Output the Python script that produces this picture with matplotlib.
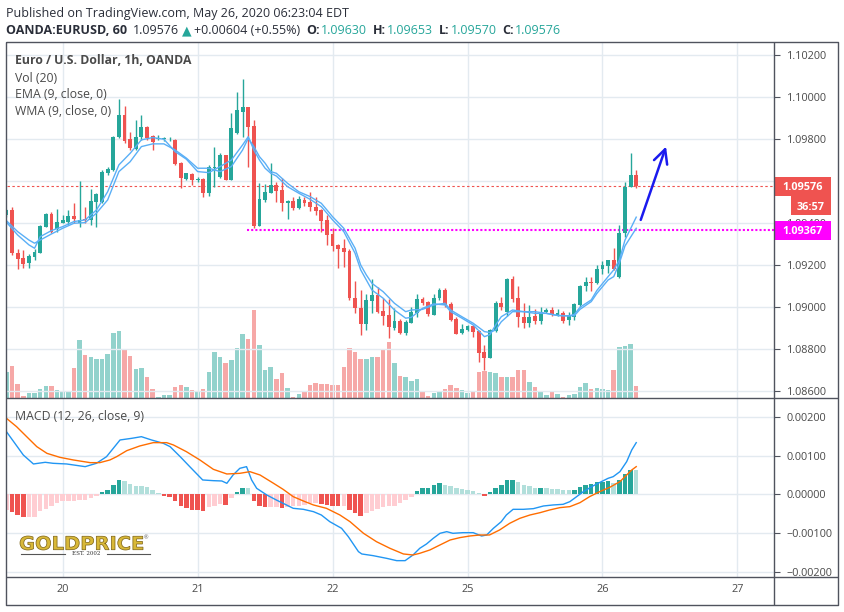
import numpy as np
import matplotlib
matplotlib.use("Agg")
import matplotlib.pyplot as plt
from matplotlib.patches import Rectangle, PathPatch
from matplotlib.textpath import TextPath
from matplotlib.font_manager import FontProperties
from matplotlib.transforms import Affine2D, blended_transform_factory

plt.rcParams['font.family'] = ['Open Sans', 'DejaVu Sans']

# 1h bars, index 0 = May 20 00:00 EDT (weekend hours skipped)
bar_index = list(range(-10, 103))

opens = [
    1.09440, 1.09463, 1.09260, 1.09236, 1.09210, 1.09241, 1.09260, 1.09384, 1.09444, 1.09371,
    1.09403, 1.09408, 1.09435, 1.09403, 1.09420, 1.09416, 1.09503, 1.09503, 1.09641, 1.09654,
    1.09810, 1.09916, 1.09800, 1.09752, 1.09810, 1.09857, 1.09816, 1.09802, 1.09800, 1.09799,
    1.09797, 1.09689, 1.09611, 1.09635, 1.09608, 1.09610, 1.09543, 1.09662, 1.09622, 1.09725,
    1.09606, 1.09829, 1.09931, 1.09955, 1.09863, 1.09387, 1.09511, 1.09546, 1.09582, 1.09559,
    1.09495, 1.09506, 1.09474, 1.09511, 1.09500, 1.09479, 1.09463, 1.09416, 1.09349, 1.09297,
    1.09284, 1.09270, 1.09043, 1.08995, 1.08920, 1.09031, 1.09059, 1.08982, 1.08963, 1.08903,
    1.08936, 1.08879, 1.08927, 1.08974, 1.09040, 1.09024, 1.08963, 1.09043, 1.09082, 1.09016,
    1.08943, 1.08876, 1.08892, 1.08911, 1.08889, 1.08789, 1.08757, 1.08889, 1.09022, 1.08979,
    1.09135, 1.09043, 1.08955, 1.08927, 1.08959, 1.08936, 1.08979, 1.08987, 1.08962, 1.08971,
    1.08940, 1.08952, 1.09011, 1.09101, 1.09122, 1.09114, 1.09181, 1.09197, 1.09225, 1.09146,
    1.09352, 1.09574, 1.09630,
]
highs = [
    1.09470, 1.09479, 1.09278, 1.09273, 1.09254, 1.09276, 1.09392, 1.09449, 1.09455, 1.09467,
    1.09440, 1.09463, 1.09495, 1.09603, 1.09479, 1.09563, 1.09545, 1.09654, 1.09668, 1.09815,
    1.09990, 1.09959, 1.09836, 1.09892, 1.09916, 1.09865, 1.09821, 1.09818, 1.09813, 1.09813,
    1.09800, 1.09693, 1.09640, 1.09640, 1.09619, 1.09614, 1.09675, 1.09765, 1.09733, 1.09725,
    1.09927, 1.10027, 1.10086, 1.09955, 1.09892, 1.09590, 1.09587, 1.09686, 1.09598, 1.09617,
    1.09510, 1.09525, 1.09530, 1.09525, 1.09549, 1.09525, 1.09470, 1.09440, 1.09378, 1.09301,
    1.09324, 1.09278, 1.09127, 1.09082, 1.09063, 1.09133, 1.09098, 1.09046, 1.09038, 1.08997,
    1.08945, 1.08938, 1.09003, 1.09062, 1.09051, 1.09030, 1.09063, 1.09090, 1.09090, 1.09025,
    1.08956, 1.08920, 1.08916, 1.08916, 1.08892, 1.08820, 1.08897, 1.09030, 1.09050, 1.09141,
    1.09149, 1.09101, 1.09022, 1.09011, 1.08990, 1.09003, 1.08997, 1.09000, 1.08990, 1.08981,
    1.08978, 1.09022, 1.09106, 1.09143, 1.09143, 1.09201, 1.09222, 1.09225, 1.09281, 1.09392,
    1.09598, 1.09733, 1.09653,
]
lows = [
    1.09430, 1.09249, 1.09182, 1.09189, 1.09189, 1.09225, 1.09258, 1.09384, 1.09352, 1.09360,
    1.09400, 1.09392, 1.09403, 1.09384, 1.09400, 1.09392, 1.09381, 1.09496, 1.09630, 1.09650,
    1.09805, 1.09781, 1.09749, 1.09749, 1.09797, 1.09797, 1.09749, 1.09795, 1.09794, 1.09794,
    1.09678, 1.09567, 1.09605, 1.09582, 1.09595, 1.09524, 1.09529, 1.09574, 1.09617, 1.09606,
    1.09606, 1.09825, 1.09812, 1.09670, 1.09376, 1.09385, 1.09503, 1.09543, 1.09503, 1.09460,
    1.09419, 1.09465, 1.09470, 1.09484, 1.09460, 1.09440, 1.09360, 1.09297, 1.09270, 1.09186,
    1.09190, 1.09035, 1.08971, 1.08868, 1.08892, 1.08974, 1.08971, 1.08916, 1.08852, 1.08892,
    1.08871, 1.08866, 1.08925, 1.08955, 1.09013, 1.08959, 1.08963, 1.09035, 1.09003, 1.08935,
    1.08873, 1.08871, 1.08889, 1.08860, 1.08741, 1.08701, 1.08757, 1.08884, 1.08987, 1.08959,
    1.09027, 1.08908, 1.08900, 1.08905, 1.08918, 1.08922, 1.08974, 1.08959, 1.08957, 1.08925,
    1.08917, 1.08940, 1.09003, 1.09079, 1.09079, 1.09110, 1.09159, 1.09162, 1.09176, 1.09138,
    1.09333, 1.09574, 1.09570,
]
closes = [
    1.09463, 1.09257, 1.09230, 1.09206, 1.09244, 1.09265, 1.09389, 1.09444, 1.09360, 1.09408,
    1.09416, 1.09435, 1.09422, 1.09416, 1.09416, 1.09506, 1.09540, 1.09646, 1.09657, 1.09812,
    1.09916, 1.09793, 1.09757, 1.09812, 1.09857, 1.09805, 1.09789, 1.09808, 1.09805, 1.09803,
    1.09682, 1.09614, 1.09638, 1.09606, 1.09613, 1.09543, 1.09670, 1.09670, 1.09725, 1.09606,
    1.09852, 1.09940, 1.09955, 1.09860, 1.09387, 1.09514, 1.09548, 1.09582, 1.09555, 1.09495,
    1.09506, 1.09474, 1.09514, 1.09495, 1.09476, 1.09460, 1.09411, 1.09344, 1.09292, 1.09278,
    1.09265, 1.09043, 1.08995, 1.08920, 1.09035, 1.09059, 1.08979, 1.08959, 1.08905, 1.08936,
    1.08879, 1.08929, 1.08979, 1.09038, 1.09022, 1.08967, 1.09043, 1.09082, 1.09011, 1.08940,
    1.08873, 1.08897, 1.08911, 1.08884, 1.08784, 1.08757, 1.08892, 1.09022, 1.09003, 1.09135,
    1.09038, 1.08952, 1.08927, 1.08955, 1.08936, 1.08979, 1.08987, 1.08963, 1.08971, 1.08936,
    1.08963, 1.09016, 1.09101, 1.09122, 1.09117, 1.09181, 1.09201, 1.09225, 1.09181, 1.09355,
    1.09574, 1.09630, 1.09576,
]
# volume, relative units
volumes = [
    77, 97, 43, 7, 16, 16, 28, 37, 37, 25,
    22, 22, 91, 175, 130, 124, 118, 118, 133, 196,
    202, 145, 127, 88, 91, 64, 28, 4, 10, 10,
    34, 40, 34, 25, 19, 28, 79, 139, 124, 106,
    115, 151, 193, 178, 265, 160, 85, 94, 58, 76,
    31, 4, 13, 19, 40, 46, 43, 43, 40, 40,
    94, 151, 139, 118, 118, 124, 124, 145, 169, 106,
    67, 64, 52, 58, 22, 7, 16, 19, 28, 40,
    31, 25, 16, 19, 79, 82, 79, 76, 64, 64,
    64, 85, 85, 49, 34, 22, 10, 19, 13, 4,
    10, 13, 34, 46, 28, 31, 28, 25, 85, 154,
    157, 163, 37,
]
# MACD histogram (x 0.001)
macd_hist = [
    -0.400, -0.464, -0.524, -0.590, -0.585, -0.575, -0.438, -0.378, -0.309, -0.223,
    -0.180, -0.163, -0.160, -0.137, -0.135, -0.094, -0.052, 0.060, 0.120, 0.249,
    0.378, 0.352, 0.275, 0.223, 0.206, 0.189, 0.103, 0.034, -0.052, -0.077,
    -0.180, -0.309, -0.352, -0.395, -0.398, -0.438, -0.326, -0.292, -0.240, -0.266,
    -0.103, 0.069, 0.172, 0.155, -0.180, -0.309, -0.335, -0.330, -0.326, -0.361,
    -0.326, -0.309, -0.292, -0.266, -0.223, -0.215, -0.240, -0.266, -0.292, -0.309,
    -0.300, -0.412, -0.481, -0.567, -0.481, -0.438, -0.378, -0.326, -0.309, -0.292,
    -0.223, -0.137, -0.069, 0.094, 0.163, 0.165, 0.240, 0.300, 0.249, 0.223,
    0.155, 0.137, 0.103, 0.085, 0.043, -0.034, 0.052, 0.163, 0.249, 0.378,
    0.380, 0.309, 0.249, 0.223, 0.163, 0.172, 0.163, 0.146, 0.137, 0.120,
    0.103, 0.120, 0.189, 0.249, 0.275, 0.309, 0.326, 0.335, 0.292, 0.378,
    0.532, 0.635, 0.630,
]

# moving averages
ma_index = [-10, -8, -6, -5, -4, -2, 0, 2, 4, 6, 8, 10, 12, 14, 16, 18, 20, 22, 24, 26,
            28, 30, 32, 33, 34, 35, 36, 37, 38, 40, 42, 44, 46, 48, 50, 52, 53, 54, 55, 57,
            59, 61, 62, 64, 66, 68, 69, 71, 73, 75, 76, 77, 78, 80, 82, 84, 86, 88, 90, 91,
            92, 94, 95, 97, 98, 99, 100, 102]
wma_vals = [1.09405, 1.09344, 1.09297, 1.09281, 1.09336, 1.09365, 1.09384, 1.09408, 1.09416, 1.09463,
            1.09550, 1.09678, 1.09733, 1.09797, 1.09808, 1.09800, 1.09741, 1.09705, 1.09646, 1.09641,
            1.09670, 1.09701, 1.09773, 1.09812, 1.09749, 1.09701, 1.09662, 1.09638, 1.09625, 1.09574,
            1.09543, 1.09514, 1.09479, 1.09416, 1.09360, 1.09257, 1.09178, 1.09130, 1.09082, 1.09043,
            1.08987, 1.08948, 1.08952, 1.08995, 1.09016, 1.09011, 1.08979, 1.08948, 1.08916, 1.08860,
            1.08870, 1.08916, 1.08955, 1.08987, 1.08979, 1.08979, 1.08971, 1.08961, 1.08959, 1.08966,
            1.09000, 1.09035, 1.09080, 1.09146, 1.09178, 1.09225, 1.09320, 1.09429]
ema_vals = [1.09412, 1.09360, 1.09320, 1.09305, 1.09320, 1.09349, 1.09376, 1.09400, 1.09403, 1.09448,
            1.09511, 1.09646, 1.09693, 1.09765, 1.09778, 1.09778, 1.09749, 1.09710, 1.09662, 1.09662,
            1.09646, 1.09670, 1.09749, 1.09805, 1.09765, 1.09717, 1.09686, 1.09646, 1.09638, 1.09590,
            1.09550, 1.09527, 1.09495, 1.09431, 1.09376, 1.09281, 1.09201, 1.09154, 1.09114, 1.09074,
            1.09019, 1.08979, 1.08987, 1.08990, 1.09011, 1.09019, 1.08987, 1.08955, 1.08924, 1.08884,
            1.08880, 1.08892, 1.08931, 1.08979, 1.08979, 1.08971, 1.08971, 1.08961, 1.08959, 1.08960,
            1.08990, 1.09027, 1.09066, 1.09130, 1.09146, 1.09210, 1.09292, 1.09376]

# MACD and signal lines (x 0.001)
macd_x = [-10, -8.5, -7, -5.2, -3.1, -1.7, 0.7, 4, 6, 7.8, 9, 10.2, 12.3, 14, 15.8, 17.9, 19.1,
          20.9, 22.6, 24.9, 26.8, 28.3, 29.2, 30.3, 31.5, 32.7, 33.6, 34.5, 36.3, 38, 39.8, 41,
          42.8, 44.6, 46, 47.5, 49.6, 50.8, 52.6, 53.2, 55.2, 57.6, 59.4, 60.9, 62.3, 63.5, 64.7,
          65.9, 67.1, 68.3, 69.4, 71.2, 73, 74.5, 75.4, 76.6, 78, 78.9, 80.1, 81.9, 83.7, 85.5,
          87.2, 89, 90.2, 91.4, 92.6, 94.3, 95.8, 97, 97.9, 99.1, 100.3, 101.2, 102]
macd_vals = [1.614, 1.314, 1.013, 0.782, 0.825, 0.799, 0.782, 0.713, 0.799, 0.970, 1.185, 1.400,
             1.443, 1.485, 1.400, 1.314, 1.228, 0.970, 0.713, 0.370, 0.352, 0.344, 0.284, 0.498,
             0.670, 0.713, 0.370, 0.155, -0.017, -0.146, -0.274, -0.360, -0.386, -0.446, -0.532,
             -0.704, -0.875, -1.090, -1.476, -1.536, -1.579, -1.648, -1.708, -1.708, -1.562,
             -1.390, -1.279, -1.133, -1.004, -0.961, -1.004, -0.987, -0.987, -1.073, -1.047,
             -0.875, -0.704, -0.532, -0.386, -0.386, -0.369, -0.300, -0.274, -0.257, -0.188,
             -0.060, 0.069, 0.215, 0.327, 0.413, 0.455, 0.584, 0.842, 1.142, 1.331]
signal_x = [-10, -8.2, -6.4, -4.6, -2.8, -0.5, 1.9, 4.9, 6.6, 8.4, 9.6, 11.4, 13.7, 16.1, 18.5,
            19.7, 22, 24.4, 26.8, 29.2, 31.5, 33.3, 35.1, 37.5, 39.2, 41, 42.8, 44.6, 46.9, 49.3,
            51.1, 53.5, 55.8, 58.2, 60.6, 62.3, 63.5, 65.3, 67.1, 68.9, 70.6, 72.4, 74.2, 75.9,
            77.7, 79.5, 81.3, 83.1, 84.9, 86.6, 88.4, 90.2, 92, 93.7, 95.5, 97.3, 99.1, 100.3,
            101.2, 102]
signal_vals = [1.958, 1.743, 1.485, 1.228, 1.056, 0.953, 0.885, 0.816, 0.816, 0.885, 0.970, 1.125,
               1.245, 1.331, 1.331, 1.271, 1.099, 0.885, 0.644, 0.524, 0.541, 0.584, 0.498, 0.284,
               0.129, -0.060, -0.171, -0.274, -0.360, -0.532, -0.704, -1.004, -1.219, -1.390,
               -1.536, -1.562, -1.519, -1.433, -1.304, -1.176, -1.116, -1.073, -1.047, -1.047,
               -0.918, -0.746, -0.618, -0.532, -0.472, -0.403, -0.343, -0.317, -0.214, -0.060,
               0.069, 0.181, 0.327, 0.498, 0.627, 0.713]

day_ticks = [0, 24, 48, 72, 96, 120]
day_labels = ["20", "21", "22", "25", "26", "27"]
price_ticks = [1.086, 1.088, 1.090, 1.092, 1.094, 1.096, 1.098, 1.100, 1.102]
macd_ticks = [-0.002, -0.001, 0.0, 0.001, 0.002]

last_price = 1.09576
level_price = 1.09367
level_start = 32.7
countdown = "36:57"
arrow_from = (102.8, 1.09416)
arrow_to = (107.3, 1.09765)

GREEN, RED = '#26a69a', '#ef5350'
TEXT, GRID, FRAME = '#4a4a4a', '#e3eaf0', '#50535e'

W, H = 845, 612
fig = plt.figure(figsize=(W / 100, H / 100), dpi=100)
fig.patch.set_facecolor('white')

left, right, top, mid, low, bottom, edge = 7, 774, 42, 398, 577, 605, 838


def rect(x0, y0, x1, y1):
    return [x0 / W, 1 - y1 / H, (x1 - x0) / W, (y1 - y0) / H]


axv = fig.add_axes(rect(left, top, right, mid))
ax = fig.add_axes(rect(left, top, right, mid), sharex=axv)
axm = fig.add_axes(rect(left, mid, right, low), sharex=axv)
ov = fig.add_axes([0, 0, 1, 1], zorder=10)
ov.set_xlim(0, W)
ov.set_ylim(H, 0)
ov.axis('off')

x = np.array(bar_index)
o, h, l, c = map(np.array, (opens, highs, lows, closes))
up = c >= o
colors = np.where(up, GREEN, RED)

# volume underneath
axv.bar(x, volumes, width=0.8, color=colors, alpha=0.5, linewidth=0)
axv.set_ylim(0, max(volumes) * (mid - top) / 88.3)
axv.axis('off')

# candles
ax.patch.set_visible(False)
ax.vlines(x, l, h, colors=colors, lw=1, zorder=3)
ax.bar(x, np.maximum(np.abs(c - o), 0.00004), bottom=np.minimum(o, c), width=0.68,
       color=colors, linewidth=0, zorder=4)
ax.plot(ma_index, ema_vals, color='#5aaff6', lw=1.0, zorder=5)
ax.plot(ma_index, wma_vals, color='#5aaff6', lw=1.0, zorder=5)

ax.axhline(last_price, color=RED, lw=0.8, ls=(0, (2.2, 2.2)), zorder=2)
ax.hlines(level_price, level_start, 126.5, color='#ff00ff', lw=1.5, ls=(0, (1, 1)), zorder=2)
ax.annotate('', xy=arrow_to, xytext=arrow_from,
            arrowprops=dict(arrowstyle='->,head_length=1.0,head_width=0.5', color='#1a1aee',
                            lw=1.8, shrinkA=0, shrinkB=0), zorder=6)

ax.set_xlim(-9.9, 126.5)
ax.set_ylim(1.08568, 1.10263)
ax.set_xticks(day_ticks)
ax.set_yticks(price_ticks)
ax.set_yticklabels([f'{t:.5f}' for t in price_ticks])
ax.yaxis.tick_right()
ax.grid(True, color=GRID, lw=1)
ax.tick_params(axis='x', length=0, labelbottom=False)
ax.tick_params(axis='y', length=4, width=0.8, color=FRAME, labelcolor=TEXT, labelsize=7.8, pad=5)

# MACD pane
hist = np.array(macd_hist)
hist_colors = []
prev = hist[0]
for v in hist:
    rising = v >= prev
    if v >= 0:
        hist_colors.append(GREEN if rising else '#b2dfdb')
    else:
        hist_colors.append('#ffcdd2' if rising else RED)
    prev = v
axm.bar(x, hist * 0.001, width=0.8, color=hist_colors, linewidth=0, zorder=2)
axm.plot(macd_x, np.array(macd_vals) * 0.001, color='#2196f3', lw=1, zorder=3)
axm.plot(signal_x, np.array(signal_vals) * 0.001, color='#ff6d00', lw=1, zorder=3)
axm.set_ylim(-0.002129, 0.002481)
axm.set_yticks(macd_ticks)
axm.set_yticklabels([f'{t:.5f}'.replace('-', '\u2212') for t in macd_ticks])
axm.yaxis.tick_right()
axm.set_xticks(day_ticks)
axm.set_xticklabels(day_labels)
axm.grid(True, color=GRID, lw=1)
axm.set_axisbelow(True)
axm.tick_params(axis='x', length=0, labelcolor=TEXT, labelsize=7.8, pad=5)
axm.tick_params(axis='y', length=4, width=0.8, color=FRAME, labelcolor=TEXT, labelsize=7.8, pad=5)

for a in (ax, axm):
    for s in a.spines.values():
        s.set_visible(False)

# frame
fk = dict(color=FRAME, lw=1.0, solid_capstyle='butt')
ov.plot([left - 0.5, edge, edge, left - 0.5, left - 0.5], [top, top, bottom, bottom, top], **fk)
ov.plot([left - 0.5, edge], [mid, mid], **fk)
ov.plot([left - 0.5, edge], [low, low], **fk)
ov.plot([right, right], [top, bottom], **fk)

# price labels on the scale
bt = blended_transform_factory(ov.transData, ax.transData)
half = 0.00045
ov.add_patch(Rectangle((right, last_price - half), 57, 2 * half, transform=bt, color=RED, lw=0))
ov.text(803, last_price, f'{last_price:.5f}', transform=bt, color='white', fontweight='bold',
        fontsize=7.8, ha='center', va='center_baseline')
ov.add_patch(Rectangle((791, last_price - 3 * half - 0.00003), 40, 2 * half, transform=bt,
                       color=RED, lw=0))
ov.text(811, last_price - 2 * half - 0.00003, countdown, transform=bt, color='white',
        fontweight='bold', fontsize=7.8, ha='center', va='center_baseline')
ov.add_patch(Rectangle((right, level_price - half), 57, 2 * half, transform=bt,
                       color='#ff00ff', lw=0))
ov.text(803, level_price, f'{level_price:.5f}', transform=bt, color='white', fontweight='bold',
        fontsize=7.8, ha='center', va='center_baseline')

# header
DARK = '#2a2e39'
ov.text(6.5, 13, 'Published on TradingView.com, May 26, 2020 06:23:04 EDT', fontsize=9,
        color=DARK, va='center')
parts = [
    ('OANDA:EURUSD, 60', 'bold', DARK, 0),
    ('1.09576', 'normal', DARK, 4),
    ('\u25b2', 'normal', GREEN, 2),
    ('+0.00604 (+0.55%)', 'normal', DARK, 2),
    ('O:', 'bold', DARK, 4),
    ('1.09630', 'normal', GREEN, 1),
    ('H:', 'bold', DARK, 4),
    ('1.09653', 'normal', GREEN, 1),
    ('L:', 'bold', DARK, 4),
    ('1.09570', 'normal', GREEN, 1),
    ('C:', 'bold', DARK, 4),
    ('1.09576', 'normal', GREEN, 1),
]
prev_t = None
for txt, wt, col, gap in parts:
    if prev_t is None:
        prev_t = ov.text(6.5, 31, txt, fontsize=9, fontweight=wt, color=col, va='center')
    else:
        prev_t = ov.annotate(txt, xy=(1, 0), xycoords=prev_t, xytext=(gap, 0),
                             textcoords='offset points', fontsize=9, fontweight=wt,
                             color=col, va='bottom')

# pane legends
ov.text(15.5, 61, 'Euro / U.S. Dollar, 1h, OANDA', fontsize=8.8, fontweight='bold',
        color=TEXT, va='center')
ov.text(15.5, 78.5, 'Vol (20)', fontsize=8.8, color=TEXT, va='center')
ov.text(15.5, 95, 'EMA (9, close, 0)', fontsize=8.8, color=TEXT, va='center')
ov.text(15.5, 111.5, 'WMA (9, close, 0)', fontsize=8.8, color=TEXT, va='center')
ov.text(15.5, 416, 'MACD (12, 26, close, 9)', fontsize=8.8, color=TEXT, va='center')

# GOLDPRICE watermark
tp = TextPath((0, 0), 'GOLDPRICE', size=10, prop=FontProperties(family='DejaVu Sans', weight='bold'))
ext = tp.get_extents()
tr = Affine2D().translate(-ext.x0, -ext.y0).scale(123 / ext.width, -14 / ext.height).translate(20, 550)
ov.add_patch(PathPatch(tr.transform_path(tp), facecolor='#d8b838', edgecolor='#7a6012', lw=0.5))
ov.text(146, 538, '\u00ae', fontsize=4, color='#555555', ha='center', va='center')
ov.plot([21, 65], [553.5, 553.5], color='#555555', lw=0.8)
ov.plot([107, 150], [553.5, 553.5], color='#555555', lw=0.8)
ov.text(86, 553.5, 'EST. 2002', fontsize=4, family='DejaVu Serif', color='#333333',
        ha='center', va='center')

fig.savefig('out.png', dpi=100)
